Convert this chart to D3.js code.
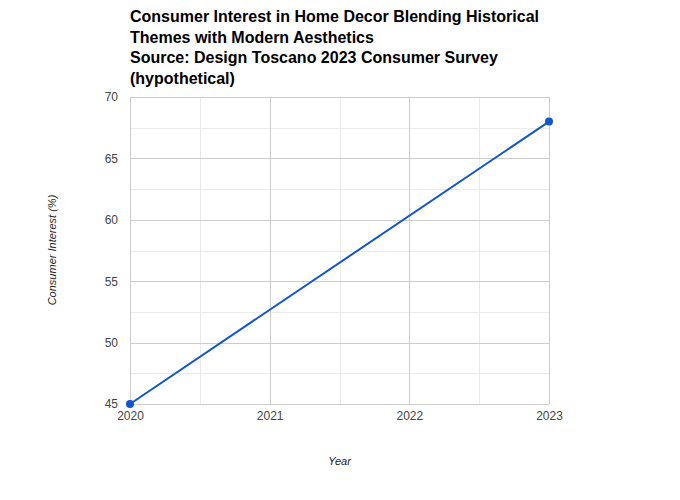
<!DOCTYPE html>
<html><head><meta charset="utf-8">
<script src="https://cdn.jsdelivr.net/npm/d3@7"></script>
<style>body{margin:0;background:#fff;}svg{display:block;font-family:Arial,"Liberation Sans",sans-serif;}</style>
</head><body>
<svg id="c" width="680" height="500"></svg>
<script>
const years = [2020, 2023];
const interest = [45, 68];
const yTicks = [45, 50, 55, 60, 65, 70];
const yMinor = [47.5, 52.5, 57.5, 62.5, 67.5];
const xTicks = [2020, 2021, 2022, 2023];
const xMinor = [2020.5, 2021.5, 2022.5];
const titleLines = ["Consumer Interest in Home Decor Blending Historical", "Themes with Modern Aesthetics", "Source: Design Toscano 2023 Consumer Survey", "(hypothetical)"];

const svg = d3.select("#c");
const L = 130, R = 549, T = 97, B = 404;
const x = d3.scaleLinear().domain([2020, 2023]).range([L, R]);
const y = d3.scaleLinear().domain([45, 70]).range([B, T]);

const g = svg.append("g");
g.selectAll(".ym").data(yMinor).enter().append("line")
  .attr("x1", L).attr("x2", R).attr("y1", d => Math.round(y(d)) + 0.5).attr("y2", d => Math.round(y(d)) + 0.5)
  .attr("stroke", "#ebebeb");
g.selectAll(".xm").data(xMinor).enter().append("line")
  .attr("y1", T).attr("y2", B).attr("x1", d => Math.round(x(d)) + 0.5).attr("x2", d => Math.round(x(d)) + 0.5)
  .attr("stroke", "#ebebeb");
g.selectAll(".yg").data(yTicks).enter().append("line")
  .attr("x1", L).attr("x2", R).attr("y1", d => Math.round(y(d)) + 0.5).attr("y2", d => Math.round(y(d)) + 0.5)
  .attr("stroke", "#cccccc");
g.selectAll(".xg").data(xTicks).enter().append("line")
  .attr("y1", T).attr("y2", B).attr("x1", d => Math.round(x(d)) + 0.5).attr("x2", d => Math.round(x(d)) + 0.5)
  .attr("stroke", "#cccccc");

// axes (labels only)
const yAxis = d3.axisLeft(y).tickValues(yTicks).tickSize(0).tickPadding(12);
const ya = svg.append("g").attr("transform", `translate(${L},0)`).call(yAxis);
ya.select(".domain").remove();
ya.selectAll("text").attr("font-size", 12).attr("fill", "#444").attr("font-family", "Arial, 'Liberation Sans', sans-serif");

const xAxis = d3.axisBottom(x).tickValues(xTicks).tickFormat(d3.format("d")).tickSize(0).tickPadding(7);
const xa = svg.append("g").attr("transform", `translate(0,${B})`).call(xAxis);
xa.select(".domain").remove();
xa.selectAll("text").attr("font-size", 12).attr("fill", "#444").attr("font-family", "Arial, 'Liberation Sans', sans-serif");

// line
const data = years.map((d, i) => ({ year: d, v: interest[i] }));
svg.append("path").datum(data)
  .attr("fill", "none").attr("stroke", "#1155cc").attr("stroke-width", 2)
  .attr("d", d3.line().x(d => x(d.year)).y(d => y(d.v)));
svg.selectAll(".pt").data(data).enter().append("circle")
  .attr("cx", d => x(d.year)).attr("cy", d => y(d.v)).attr("r", 4).attr("fill", "#1155cc");

// title
svg.append("g").selectAll("text").data(titleLines).enter().append("text")
  .attr("x", L).attr("y", (d, i) => 22 + i * 20.7)
  .attr("font-size", 16).attr("font-weight", "bold").attr("fill", "#000").text(d => d);

// axis titles
svg.append("text").attr("x", (L + R) / 2).attr("y", 465).attr("text-anchor", "middle")
  .attr("font-size", 11).attr("font-style", "italic").attr("fill", "#222").text("Year");
svg.append("text").attr("transform", "translate(56,250) rotate(-90)").attr("text-anchor", "middle")
  .attr("font-size", 11).attr("font-style", "italic").attr("fill", "#222").text("Consumer Interest (%)");
</script>
</body></html>
